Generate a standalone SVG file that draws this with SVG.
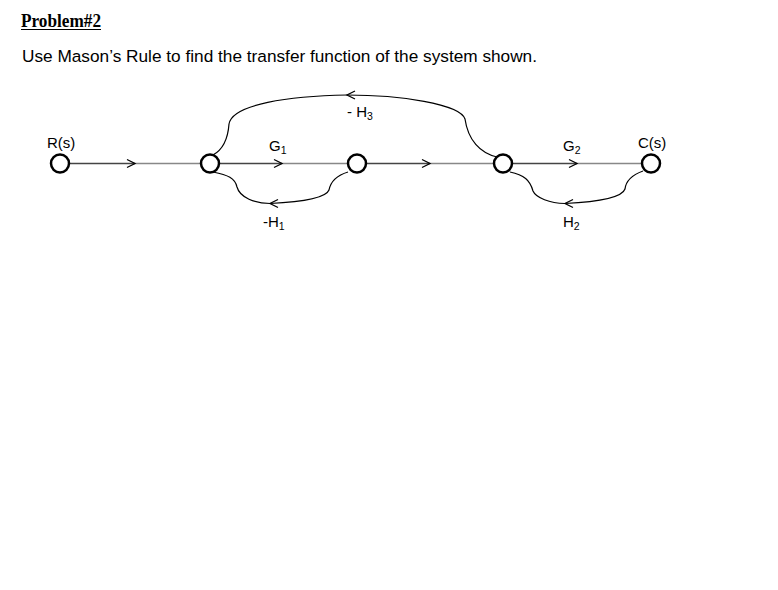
<svg xmlns="http://www.w3.org/2000/svg" width="778" height="590" viewBox="0 0 778 590">
<style>
.t{font-family:"Liberation Sans",Arial,sans-serif;fill:#000}
.lbl{font-family:"Liberation Sans",Arial,sans-serif;font-size:15px;fill:#000}
.sub{font-size:10.5px}
.node{fill:#fff;stroke:#000;stroke-width:2.5}
.dk{stroke:#444;stroke-width:1.6;fill:none}
.lt{stroke:#888;stroke-width:1.6;fill:none}
.crv{stroke:#000;stroke-width:1.2;fill:none}
.ah{stroke:#000;stroke-width:1.3;fill:none;stroke-linejoin:miter}
</style>
<rect width="778" height="590" fill="#fff"/>
<text x="21" y="27" font-family="'Liberation Serif','Times New Roman',serif" font-weight="bold" font-size="18" textLength="80" lengthAdjust="spacingAndGlyphs">Problem#2</text>
<line x1="21" y1="29.5" x2="101" y2="29.5" stroke="#000" stroke-width="1.2"/>
<text class="t" x="22" y="62" font-size="16.8" textLength="515" lengthAdjust="spacingAndGlyphs">Use Mason’s Rule to find the transfer function of the system shown.</text>

<g id="connectors">
  <!-- forward branches -->
  <line class="dk" x1="60" y1="163.5" x2="135" y2="163.5"/>
  <line class="lt" x1="135" y1="163.5" x2="210" y2="163.5"/>
  <path class="ah" d="M127,159.5 L135,163.5 L127,167.5"/>
  <line class="dk" x1="210" y1="163.5" x2="282" y2="163.5"/>
  <line class="lt" x1="282" y1="163.5" x2="357" y2="163.5"/>
  <path class="ah" d="M274,159.5 L282,163.5 L274,167.5"/>
  <line class="dk" x1="357" y1="163.5" x2="430" y2="163.5"/>
  <line class="lt" x1="430" y1="163.5" x2="503" y2="163.5"/>
  <path class="ah" d="M422,159.5 L430,163.5 L422,167.5"/>
  <line class="dk" x1="503" y1="163.5" x2="577" y2="163.5"/>
  <line class="lt" x1="577" y1="163.5" x2="651" y2="163.5"/>
  <path class="ah" d="M569,159.5 L577,163.5 L569,167.5"/>
  <!-- -H3 feedback -->
  <path class="crv" d="M213,155 C224,149 228,138 229,124 C232,104 290,96 347,95 C400,95 460,104 465,119 C468,140 480,153 497,157"/>
  <path class="ah" d="M355,91 L347,95 L355,99"/>
  <!-- -H1 feedback -->
  <path class="crv" d="M348,172 C338,175 331,180 329,190 C326,198 300,202 270,203.5 C255,203 240,198 237,187 C235,178 228,175 213,172"/>
  <path class="ah" d="M278,199.5 L270,203.5 L278,207.5"/>
  <!-- H2 feedback -->
  <path class="crv" d="M643,171 C632,175 626,180 625,189 C622,198 595,202 565,203.5 C550,203 536,198 533,191 C530,180 524,175 510,172"/>
  <path class="ah" d="M573,199.5 L565,203.5 L573,207.5"/>
</g>

<g id="n-R">
  <circle class="node" cx="60" cy="163.5" r="9"/>
  <text class="lbl" x="47" y="148">R(s)</text>
</g>
<g id="n-2"><circle class="node" cx="210" cy="163.5" r="9"/></g>
<g id="n-3"><circle class="node" cx="357" cy="163.5" r="9"/></g>
<g id="n-4"><circle class="node" cx="503" cy="163.5" r="9"/></g>
<g id="n-C">
  <circle class="node" cx="651" cy="163.5" r="9"/>
  <text class="lbl" x="638" y="147.5">C(s)</text>
</g>

<g id="labels">
  <text class="lbl" x="269" y="151">G<tspan class="sub" dy="3">1</tspan></text>
  <text class="lbl" x="563" y="151">G<tspan class="sub" dy="3">2</tspan></text>
  <text class="lbl" x="263" y="226.5">-H<tspan class="sub" dy="3">1</tspan></text>
  <text class="lbl" x="563" y="226.5">H<tspan class="sub" dy="3">2</tspan></text>
  <text class="lbl" x="347" y="116.5">- H<tspan class="sub" dy="3">3</tspan></text>
</g>
</svg>
